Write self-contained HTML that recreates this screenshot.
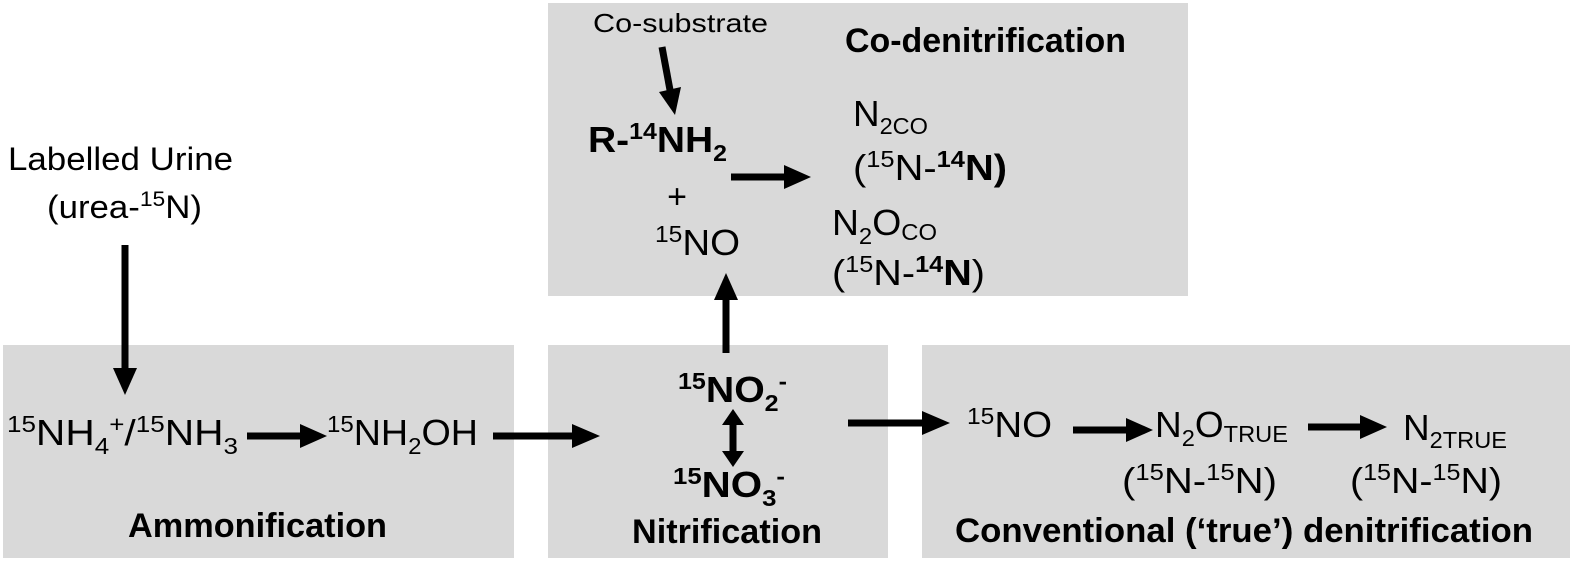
<!DOCTYPE html>
<html><head><meta charset="utf-8"><style>
html,body{margin:0;padding:0;background:#fff;}
svg{display:block;}
text{font-family:"Liberation Sans",sans-serif;fill:#000;}
.b{font-weight:bold;}
</style></head><body>
<svg width="1575" height="563" viewBox="0 0 1575 563" xmlns="http://www.w3.org/2000/svg">
<rect x="548" y="3" width="640" height="293" fill="#d9d9d9"/>
<rect x="3" y="345" width="511" height="213" fill="#d9d9d9"/>
<rect x="548" y="345" width="340" height="213" fill="#d9d9d9"/>
<rect x="922" y="345" width="648" height="213" fill="#d9d9d9"/>

<g stroke="#000" stroke-width="7" fill="none">
<line x1="125" y1="245" x2="125" y2="372"/>
<line x1="247" y1="436" x2="302" y2="436"/>
<line x1="493" y1="436" x2="574" y2="436"/>
<line x1="733" y1="423" x2="733" y2="453"/>
<line x1="726" y1="353" x2="726" y2="298"/>
<line x1="848" y1="423" x2="924" y2="423"/>
<line x1="1073" y1="430" x2="1128" y2="430"/>
<line x1="1308" y1="427" x2="1362" y2="427"/>
<line x1="662" y1="47" x2="670" y2="90"/>
<line x1="731" y1="177" x2="786" y2="177"/>
</g>
<g fill="#000">
<polygon points="113,368 137,368 125,395"/>
<polygon points="300,424 300,448 327,436"/>
<polygon points="572,424 572,448 600,436"/>
<polygon points="722,425 744,425 733,409"/>
<polygon points="722,451 744,451 733,467"/>
<polygon points="714,300 738,300 726,273"/>
<polygon points="922,411 922,435 950,423"/>
<polygon points="1126,418 1126,442 1153,430"/>
<polygon points="1360,415 1360,439 1387,427"/>
<polygon points="681,87 659,92 675,115"/>
<polygon points="784,165 784,189 811,177"/>
</g>

<text x="8" y="170" font-size="32" textLength="225" lengthAdjust="spacingAndGlyphs">Labelled Urine</text>
<text x="47" y="218" font-size="32" textLength="155" lengthAdjust="spacingAndGlyphs">(urea-<tspan font-size="21" dy="-12">15</tspan><tspan dy="12">N)</tspan></text>

<text x="7" y="445" font-size="36" textLength="231" lengthAdjust="spacingAndGlyphs"><tspan font-size="23" dy="-13">15</tspan><tspan dy="13">NH</tspan><tspan font-size="23" dy="9">4</tspan><tspan font-size="23" dy="-22">+</tspan><tspan dy="13">/</tspan><tspan font-size="23" dy="-13">15</tspan><tspan dy="13">NH</tspan><tspan font-size="23" dy="9">3</tspan></text>
<text x="327" y="445" font-size="36" textLength="151" lengthAdjust="spacingAndGlyphs"><tspan font-size="23" dy="-13">15</tspan><tspan dy="13">NH</tspan><tspan font-size="23" dy="9">2</tspan><tspan dy="-9">OH</tspan></text>
<text class="b" x="128" y="537" font-size="34" textLength="259" lengthAdjust="spacingAndGlyphs">Ammonification</text>

<text class="b" x="678" y="402" font-size="36" textLength="109" lengthAdjust="spacingAndGlyphs"><tspan font-size="23" dy="-13">15</tspan><tspan dy="13">NO</tspan><tspan font-size="23" dy="9">2</tspan><tspan font-size="23" dy="-22">-</tspan></text>
<text class="b" x="673" y="497" font-size="36" textLength="112" lengthAdjust="spacingAndGlyphs"><tspan font-size="23" dy="-13">15</tspan><tspan dy="13">NO</tspan><tspan font-size="23" dy="9">3</tspan><tspan font-size="23" dy="-22">-</tspan></text>
<text class="b" x="632" y="543" font-size="34" textLength="190" lengthAdjust="spacingAndGlyphs">Nitrification</text>

<text x="967" y="437" font-size="36" textLength="85" lengthAdjust="spacingAndGlyphs"><tspan font-size="23" dy="-13">15</tspan><tspan dy="13">NO</tspan></text>
<text x="1155" y="437" font-size="36" textLength="133" lengthAdjust="spacingAndGlyphs">N<tspan font-size="23" dy="9">2</tspan><tspan dy="-9">O</tspan><tspan font-size="23" dy="5">TRUE</tspan></text>
<text x="1122" y="493" font-size="36" textLength="155" lengthAdjust="spacingAndGlyphs">(<tspan font-size="23" dy="-13">15</tspan><tspan dy="13">N-</tspan><tspan font-size="23" dy="-13">15</tspan><tspan dy="13">N)</tspan></text>
<text x="1403" y="440" font-size="36" textLength="104" lengthAdjust="spacingAndGlyphs">N<tspan font-size="23" dy="8">2TRUE</tspan></text>
<text x="1350" y="493" font-size="36" textLength="152" lengthAdjust="spacingAndGlyphs">(<tspan font-size="23" dy="-13">15</tspan><tspan dy="13">N-</tspan><tspan font-size="23" dy="-13">15</tspan><tspan dy="13">N)</tspan></text>
<text class="b" x="955" y="542" font-size="34" textLength="578" lengthAdjust="spacingAndGlyphs">Conventional (‘true’) denitrification</text>

<text x="593" y="32" font-size="26" textLength="175" lengthAdjust="spacingAndGlyphs">Co-substrate</text>
<text class="b" x="588" y="152" font-size="36" textLength="139" lengthAdjust="spacingAndGlyphs">R-<tspan font-size="23" dy="-13">14</tspan><tspan dy="13">NH</tspan><tspan font-size="23" dy="9">2</tspan></text>
<text x="677" y="208" font-size="34" text-anchor="middle">+</text>
<text x="655" y="255" font-size="36" textLength="85" lengthAdjust="spacingAndGlyphs"><tspan font-size="23" dy="-13">15</tspan><tspan dy="13">NO</tspan></text>
<text class="b" x="845" y="52" font-size="34" textLength="281" lengthAdjust="spacingAndGlyphs">Co-denitrification</text>
<text x="853" y="126" font-size="36" textLength="75" lengthAdjust="spacingAndGlyphs">N<tspan font-size="23" dy="8">2CO</tspan></text>
<text x="853" y="180" font-size="36" textLength="154" lengthAdjust="spacingAndGlyphs">(<tspan font-size="23" dy="-13">15</tspan><tspan dy="13">N-</tspan><tspan class="b" font-size="23" dy="-13">14</tspan><tspan class="b" dy="13">N)</tspan></text>
<text x="832" y="235" font-size="36" textLength="105" lengthAdjust="spacingAndGlyphs">N<tspan font-size="23" dy="9">2</tspan><tspan dy="-9">O</tspan><tspan font-size="23" dy="5">CO</tspan></text>
<text x="832" y="285" font-size="36" textLength="153" lengthAdjust="spacingAndGlyphs">(<tspan font-size="23" dy="-13">15</tspan><tspan dy="13">N-</tspan><tspan class="b" font-size="23" dy="-13">14</tspan><tspan class="b" dy="13">N</tspan><tspan>)</tspan></text>
</svg>
</body></html>
